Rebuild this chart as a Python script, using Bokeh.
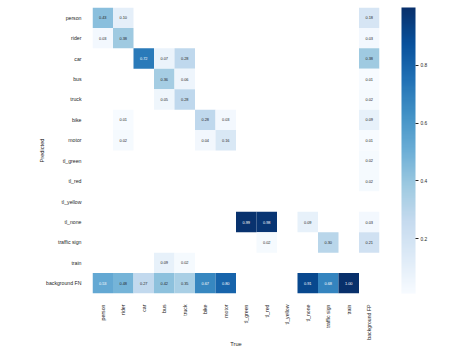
import numpy as np
from bokeh.plotting import figure
from bokeh.models import ColumnDataSource, LinearColorMapper, ColorBar, FixedTicker, FactorRange
from bokeh.palettes import Blues256
from bokeh.embed import file_html
from bokeh.resources import INLINE
from bokeh.core.properties import value

true_labels = ["person", "rider", "car", "bus", "truck", "bike", "motor", "tl_green", "tl_red",
               "tl_yellow", "tl_none", "traffic sign", "train", "background FP"]
pred_labels = ["person", "rider", "car", "bus", "truck", "bike", "motor", "tl_green", "tl_red",
               "tl_yellow", "tl_none", "traffic sign", "train", "background FN"]

N = None
# one list per predicted row, columns follow true_labels; None = blank cell
row_person = [0.43, 0.10, N, N, N, N, N, N, N, N, N, N, N, 0.18]
row_rider = [0.03, 0.38, N, N, N, N, N, N, N, N, N, N, N, 0.03]
row_car = [N, N, 0.72, 0.07, 0.28, N, N, N, N, N, N, N, N, 0.38]
row_bus = [N, N, N, 0.36, 0.06, N, N, N, N, N, N, N, N, 0.01]
row_truck = [N, N, N, 0.05, 0.28, N, N, N, N, N, N, N, N, 0.02]
row_bike = [N, 0.01, N, N, N, 0.28, 0.03, N, N, N, N, N, N, 0.09]
row_motor = [N, 0.02, N, N, N, 0.04, 0.16, N, N, N, N, N, N, 0.01]
row_tl_green = [N, N, N, N, N, N, N, N, N, N, N, N, N, 0.02]
row_tl_red = [N, N, N, N, N, N, N, N, N, N, N, N, N, 0.02]
row_tl_yellow = [N, N, N, N, N, N, N, N, N, N, N, N, N, N]
row_tl_none = [N, N, N, N, N, N, N, 0.99, 0.98, N, 0.09, N, N, 0.03]
row_traffic_sign = [N, N, N, N, N, N, N, N, 0.02, N, N, 0.30, N, 0.21]
row_train = [N, N, N, 0.09, 0.02, N, N, N, N, N, N, N, N, N]
row_background_fn = [0.53, 0.48, 0.27, 0.42, 0.35, 0.67, 0.80, N, N, N, 0.91, 0.68, 1.00, N]

rows = [row_person, row_rider, row_car, row_bus, row_truck, row_bike, row_motor, row_tl_green,
        row_tl_red, row_tl_yellow, row_tl_none, row_traffic_sign, row_train, row_background_fn]

vmin, vmax = 0.01, 1.0
palette = list(reversed(Blues256))
mapper = LinearColorMapper(palette=palette, low=vmin, high=vmax)


def lum(hexcol):
    rgb = [int(hexcol[i:i + 2], 16) / 255 for i in (1, 3, 5)]
    lin = [c / 12.92 if c <= 0.03928 else ((c + 0.055) / 1.055) ** 2.4 for c in rgb]
    return 0.2126 * lin[0] + 0.7152 * lin[1] + 0.0722 * lin[2]


xs, ys, vals, txt, tcol = [], [], [], [], []
for pl, r in zip(pred_labels, rows):
    for tl, v in zip(true_labels, r):
        if v is None:
            continue
        xs.append(tl)
        ys.append(pl)
        vals.append(v)
        txt.append(f"{v:.2f}")
        idx = int(np.clip((v - vmin) / (vmax - vmin) * 255, 0, 255))
        tcol.append("#262626" if lum(palette[idx]) > 0.408 else "#ffffff")

src = ColumnDataSource(dict(x=xs, y=ys, v=vals, t=txt, tc=tcol))

FONT = "Liberation Sans"
p = figure(x_range=FactorRange(factors=true_labels), y_range=FactorRange(factors=pred_labels[::-1]),
           frame_width=287, frame_height=286, min_border_left=92, min_border_right=95,
           min_border_top=7, min_border_bottom=62, output_backend="svg", toolbar_location=None,
           x_axis_label="True", y_axis_label="Predicted")
p.rect(x="x", y="y", width=1, height=1, source=src,
       fill_color={"field": "v", "transform": mapper}, line_color=None)
p.text(x="x", y="y", text="t", source=src, text_align="center", text_baseline="middle",
       text_font_size="3.9px", text_color="tc", text_font=value(FONT))

p.outline_line_color = None
p.xgrid.grid_line_color = None
p.ygrid.grid_line_color = None
for ax in (p.xaxis, p.yaxis):
    ax.axis_line_color = None
    ax.major_tick_line_color = None
    ax.minor_tick_line_color = None
    ax.major_label_text_font_size = "5.2px"
    ax.major_label_text_color = "#262626"
    ax.major_label_text_font = FONT
    ax.axis_label_text_font = FONT
    ax.axis_label_text_font_size = "5.7px"
    ax.axis_label_text_font_style = "normal"
    ax.axis_label_text_color = "#262626"
    ax.major_label_standoff = 5
    ax.axis_label_standoff = -2
p.xaxis.major_label_orientation = np.pi / 2

cb = ColorBar(color_mapper=mapper, location=(309, 0), width=14, height=286, padding=0, margin=0,
              ticker=FixedTicker(ticks=[0.2, 0.4, 0.6, 0.8]), major_label_text_font_size="4.8px",
              major_label_text_font=FONT, major_label_text_color="#262626",
              major_tick_out=3, major_tick_in=0, major_tick_line_color="#262626",
              bar_line_color=None, border_line_color=None, background_fill_alpha=0,
              label_standoff=2)
p.add_layout(cb, "center")

open("out.html", "w").write(file_html(p, INLINE))
